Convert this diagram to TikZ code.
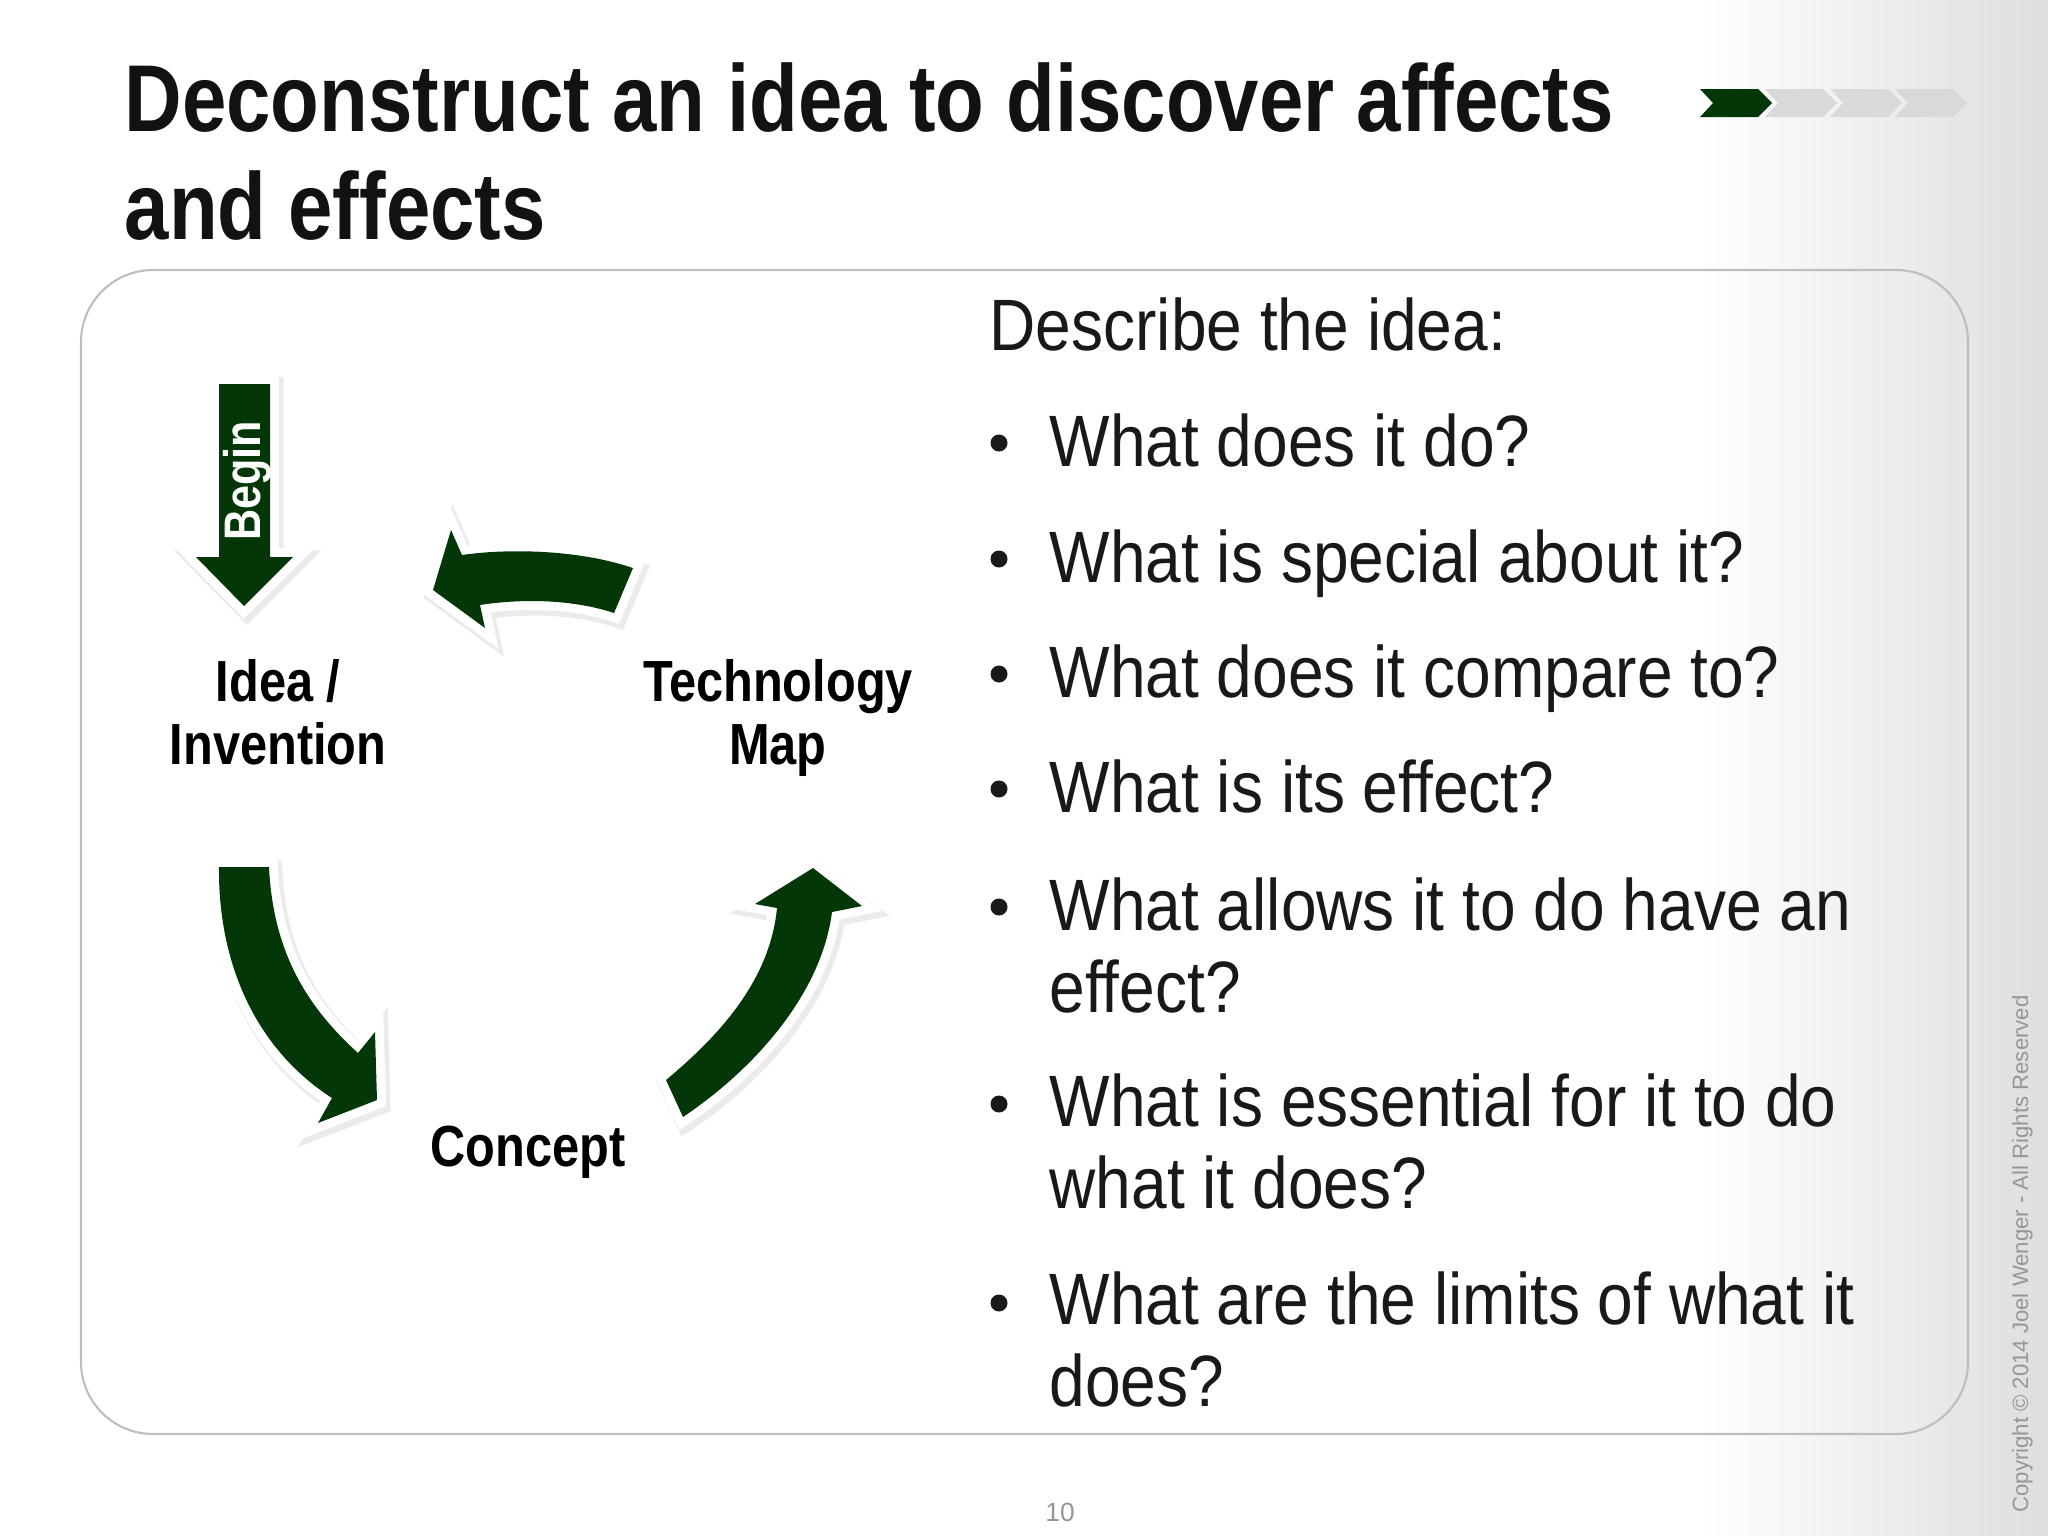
\documentclass[tikz,border=0pt]{standalone}
\usepackage{fontspec}
\setmainfont{Liberation Sans}
\newfontfamily\headfont[FakeStretch=0.84]{Liberation Sans}
\newfontfamily\bodyfont[FakeStretch=0.88]{Liberation Sans}
\usetikzlibrary{calc,positioning}
\definecolor{arrowgreen}{RGB}{4,55,8}
\definecolor{stepgray}{RGB}{217,217,217}
\definecolor{framegray}{RGB}{190,190,190}
\definecolor{inkgray}{RGB}{25,25,25}
\definecolor{notegray}{RGB}{150,150,150}

\begin{document}
\begin{tikzpicture}[x=0.01cm,y=-0.01cm,
  blockarrow/.style={fill=arrowgreen,
    preaction={draw=black,opacity=0.08,line width=6pt,line join=miter,transform canvas={shift={(3,4)}}},
    preaction={draw=white,line width=5pt,line join=miter}},
  label/.style={font=\headfont\bfseries\fontsize{16.5}{17.9}\selectfont,align=center,anchor=base,inner sep=0pt,text=black},
  item/.style={font=\bodyfont\fontsize{20.7}{23.3}\selectfont,align=left,anchor=base west,inner sep=0pt,text=inkgray},
  dot/.style={circle,fill=inkgray,inner sep=0pt,minimum size=0.17cm}]

  \useasboundingbox (0,0) rectangle (2048,1536);
  \shade[left color=white,right color=black!13] (1700,0) rectangle (2048,1536);

  % title and progress marks
  \node[font=\headfont\bfseries\fontsize{27}{30.7}\selectfont,align=left,anchor=base west,inner sep=0pt,text=black!93] (title) at (124,239)
    {Deconstruct an idea to discover affects\\and effects};
  \fill[arrowgreen] (1700,89) -- (1758,89) -- (1772,103) -- (1758,117) -- (1700,117) -- (1713,103) -- cycle;
  \fill[stepgray] (1765,89) -- (1823,89) -- (1837,103) -- (1823,117) -- (1765,117) -- (1778,103) -- cycle;
  \fill[stepgray] (1830,89) -- (1888,89) -- (1902,103) -- (1888,117) -- (1830,117) -- (1843,103) -- cycle;
  \fill[stepgray] (1895,89) -- (1953,89) -- (1967,103) -- (1953,117) -- (1895,117) -- (1908,103) -- cycle;

  \draw[framegray,line width=0.6pt,rounded corners=0.72cm] (81,270) rectangle (1968,1434);

  % cycle
  \node[label] (idea) at (278,764) {Idea /\\Invention};
  \node[label] (tech) at (778,764) {Technology\\Map};
  \node[label] (concept) at (528,1166) {Concept};

  \path[blockarrow] (219,384) -- (270,384) -- (270,557) -- (293,557) -- (244,606) -- (196,557) -- (219,557) -- cycle;
  \node[rotate=90,inner sep=0pt,text=white,font=\headfont\bfseries\fontsize{14.6}{15}\selectfont] (begin) at (247,481) {Begin};

  \path[blockarrow] (219,867) -- (269,867) .. controls (273,950) and (305,1005) .. (358,1053) -- (375,1032) -- (377,1100)
    -- (318,1123) -- (332,1098) .. controls (250,1045) and (218,955) .. (219,867) -- cycle;
  \path[blockarrow] (666,1080) .. controls (720,1035) and (770,980) .. (777,908) -- (755,904) -- (813,868) -- (862,906)
    -- (832,912) .. controls (822,990) and (760,1065) .. (683,1117) -- cycle;
  \path[blockarrow] (614,613) -- (633,568) .. controls (580,550) and (510,548) .. (462,555) -- (451,530) -- (433,590)
    -- (485,628) -- (480,605) .. controls (525,598) and (575,600) .. (614,613) -- cycle;

  % questions
  \node[item] (head) at (989,350) {Describe the idea:};
  \node[dot] at (999,443) {};
  \node[item] (q1) at (1049,466) {What does it do?};
  \node[dot] at (999,559) {};
  \node[item] (q2) at (1049,582) {What is special about it?};
  \node[dot] at (999,674) {};
  \node[item] (q3) at (1049,697) {What does it compare to?};
  \node[dot] at (999,789) {};
  \node[item] (q4) at (1049,812) {What is its effect?};
  \node[dot] at (999,907) {};
  \node[item] (q5) at (1049,1012) {What allows it to do have an\\effect?};
  \node[dot] at (999,1104) {};
  \node[item] (q6) at (1049,1208) {What is essential for it to do\\what it does?};
  \node[dot] at (999,1303) {};
  \node[item] (q7) at (1049,1406) {What are the limits of what it\\does?};

  \node[font=\fontsize{7.5}{8}\selectfont,text=notegray,anchor=base,inner sep=0pt] (page) at (1060,1521) {10};
  \node[rotate=90,font=\fontsize{6.3}{7}\selectfont,text=notegray,anchor=base,inner sep=0pt] (copy) at (2028,1254)
    {Copyright © 2014 Joel Wenger - All Rights Reserved};
\end{tikzpicture}
\end{document}
